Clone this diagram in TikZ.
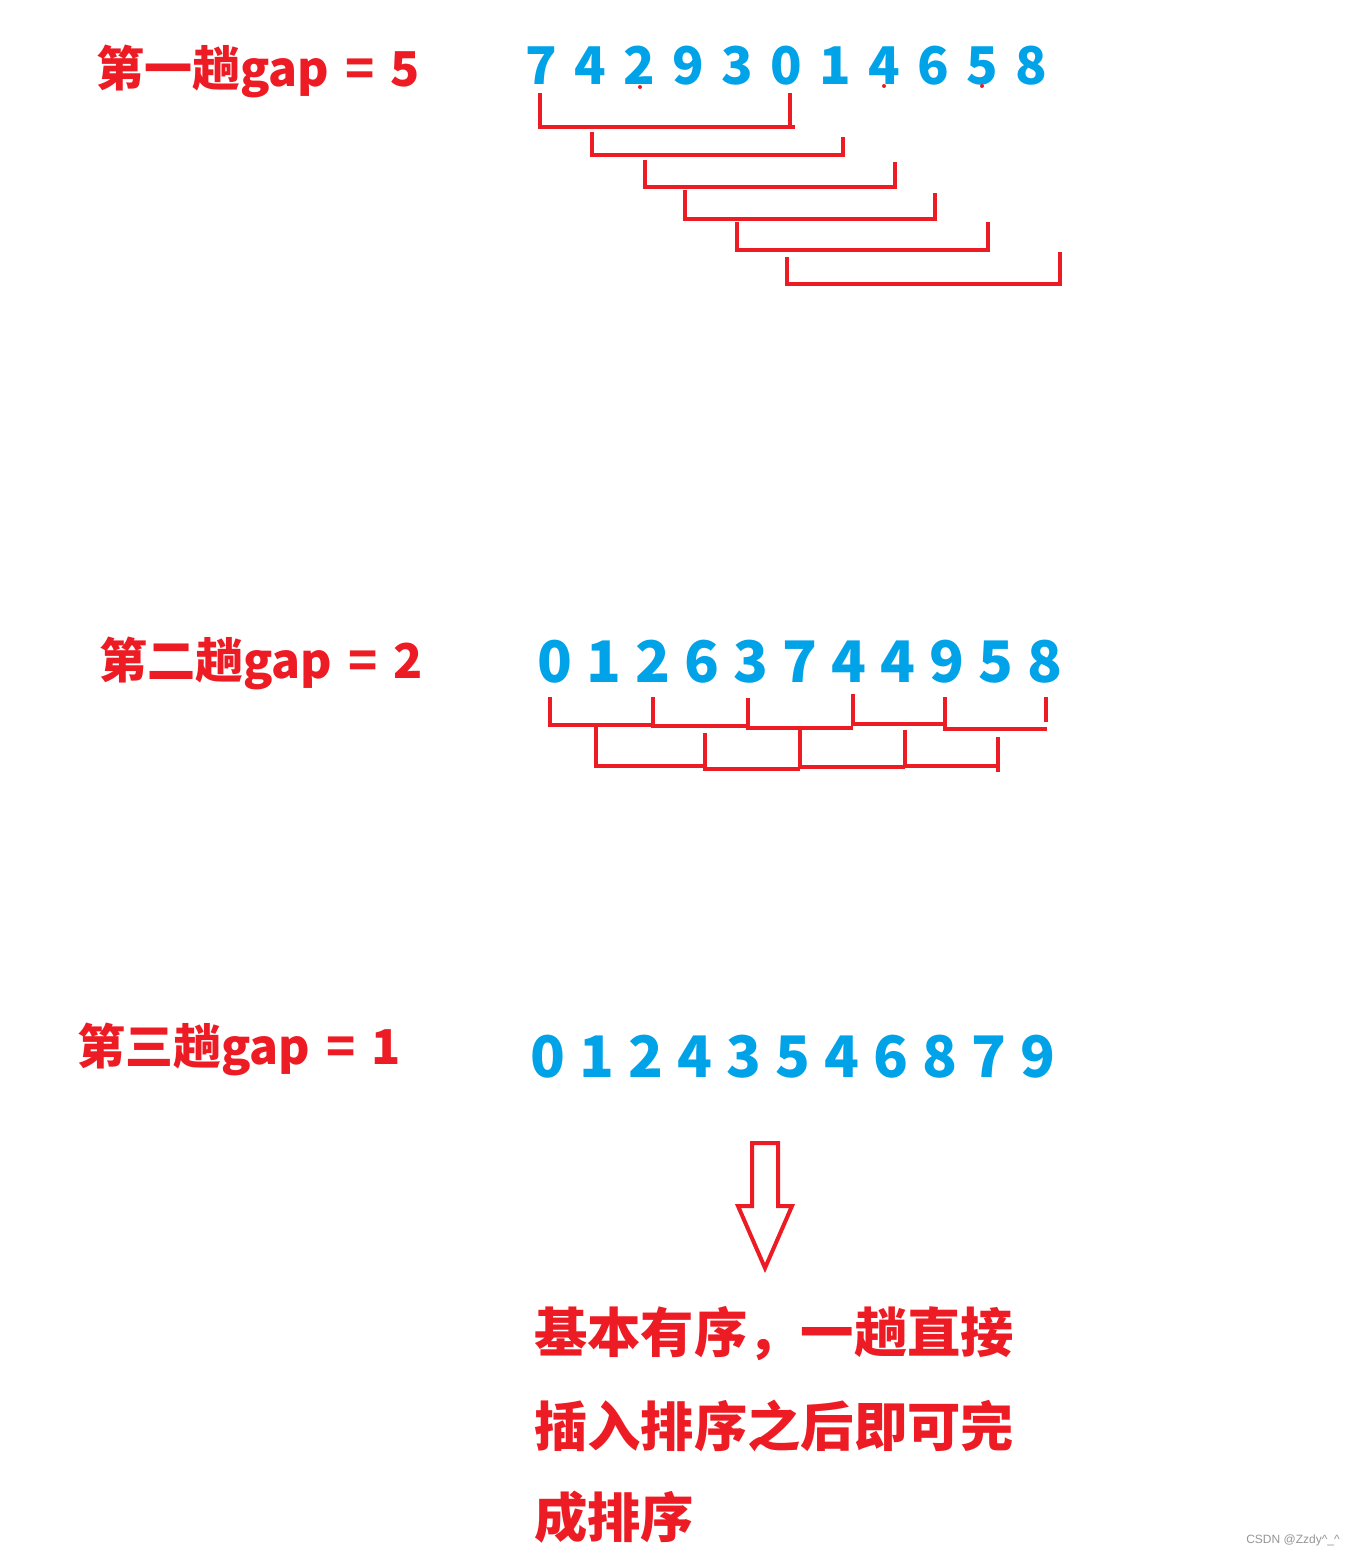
\documentclass[tikz,border=0pt]{standalone}
\usepackage{fontspec}
\newfontfamily\cjk{Noto Sans CJK SC}
\newfontfamily\wmfont{Liberation Sans}
\definecolor{pblue}{RGB}{0,162,232}
\definecolor{pred}{RGB}{237,28,36}
\definecolor{wmgray}{RGB}{150,150,150}
\newcommand{\eqgap}[1]{gap\hspace{0.33em}=\hspace{0.34em}#1}
\begin{document}
\begin{tikzpicture}[x=0.75pt,y=-0.75pt,
  digit/.style={text=pblue,font=\cjk\bfseries\fontsize{39}{39}\selectfont,anchor=base,inner sep=0pt},
  digitb/.style={text=pblue,font=\cjk\bfseries\fontsize{43}{43}\selectfont,anchor=base,inner sep=0pt},
  lbl/.style={text=pred,font=\cjk\bfseries\fontsize{36}{36}\selectfont,anchor=base west,inner sep=0pt},
  note/.style={text=pred,font=\cjk\bfseries\fontsize{40}{40}\selectfont,anchor=base west,inner sep=0pt},
  brk/.style={draw=pred,line width=3.2pt},
  bigarrow/.style={draw=pred,line width=3pt,line join=miter}]
\useasboundingbox (0,0) rectangle (1355,1555);
\fill[white] (0,0) rectangle (1355,1555);
% labels
\node[lbl] (l1) at (96,87) {第一趟\eqgap{5}};
\node[lbl] (l2) at (99,678) {第二趟\eqgap{2}};
\node[lbl] (l3) at (77,1064) {第三趟\eqgap{1}};
% row 1
\foreach \d [count=\i from 0] in {7,4,2,9,3,0,1,4,6,5,8}
  \node[digit] (a\i) at (541+49*\i,85) {\d};
\fill[pred] (640,87) circle (2);
\fill[pred] (884,86) circle (2);
\fill[pred] (982,86) circle (2);
% row 1 brackets
\draw[brk] (540,93) |- (795,127);
\draw[brk] (790,93) -- (790,127);
\draw[brk] (592,132) |- (843,155) -- (843,137);
\draw[brk] (645,160) |- (895,187) -- (895,162);
\draw[brk] (685,190) |- (935,219) -- (935,193);
\draw[brk] (737,222) |- (988,250) -- (988,222);
\draw[brk] (787,257) |- (1060,284) -- (1060,252);
% row 2
\foreach \d [count=\i from 0] in {0,1,2,6,3,7,4,4,9,5,8}
  \node[digitb] (b\i) at (555+49*\i,682) {\d};
% row 2 brackets upper
\draw[brk] (550,697) |- (653,725);
\draw[brk] (653,697) |- (748,726);
\draw[brk] (748,698) |- (853,728);
\draw[brk] (853,694) |- (945,724);
\draw[brk] (945,697) |- (1047,729);
\draw[brk] (1046,697) -- (1046,722);
% row 2 brackets lower
\draw[brk] (596,727) |- (705,766);
\draw[brk] (705,733) |- (800,769);
\draw[brk] (800,730) |- (905,767);
\draw[brk] (905,730) |- (998,766);
\draw[brk] (998,737) -- (998,772);
% row 3
\foreach \d [count=\i from 0] in {0,1,2,4,3,5,4,6,8,7,9}
  \node[digitb] (c\i) at (548+49*\i,1077) {\d};
% arrow
\draw[bigarrow] (752,1143) -- (778,1143) -- (778,1206) -- (792,1206) -- (765,1268) -- (738,1206) -- (752,1206) -- cycle;
% note
\node[note] (n1) at (534,1352) {基本有序，一趟直接};
\node[note] (n2) at (534,1446) {插入排序之后即可完};
\node[note] (n3) at (534,1537) {成排序};
% watermark
\node[text=wmgray,font=\wmfont\fontsize{9}{9}\selectfont,anchor=base east,inner sep=0pt] (wm) at (1340,1543) {CSDN @Zzdy\^{}\_\^{}};
\end{tikzpicture}
\end{document}
